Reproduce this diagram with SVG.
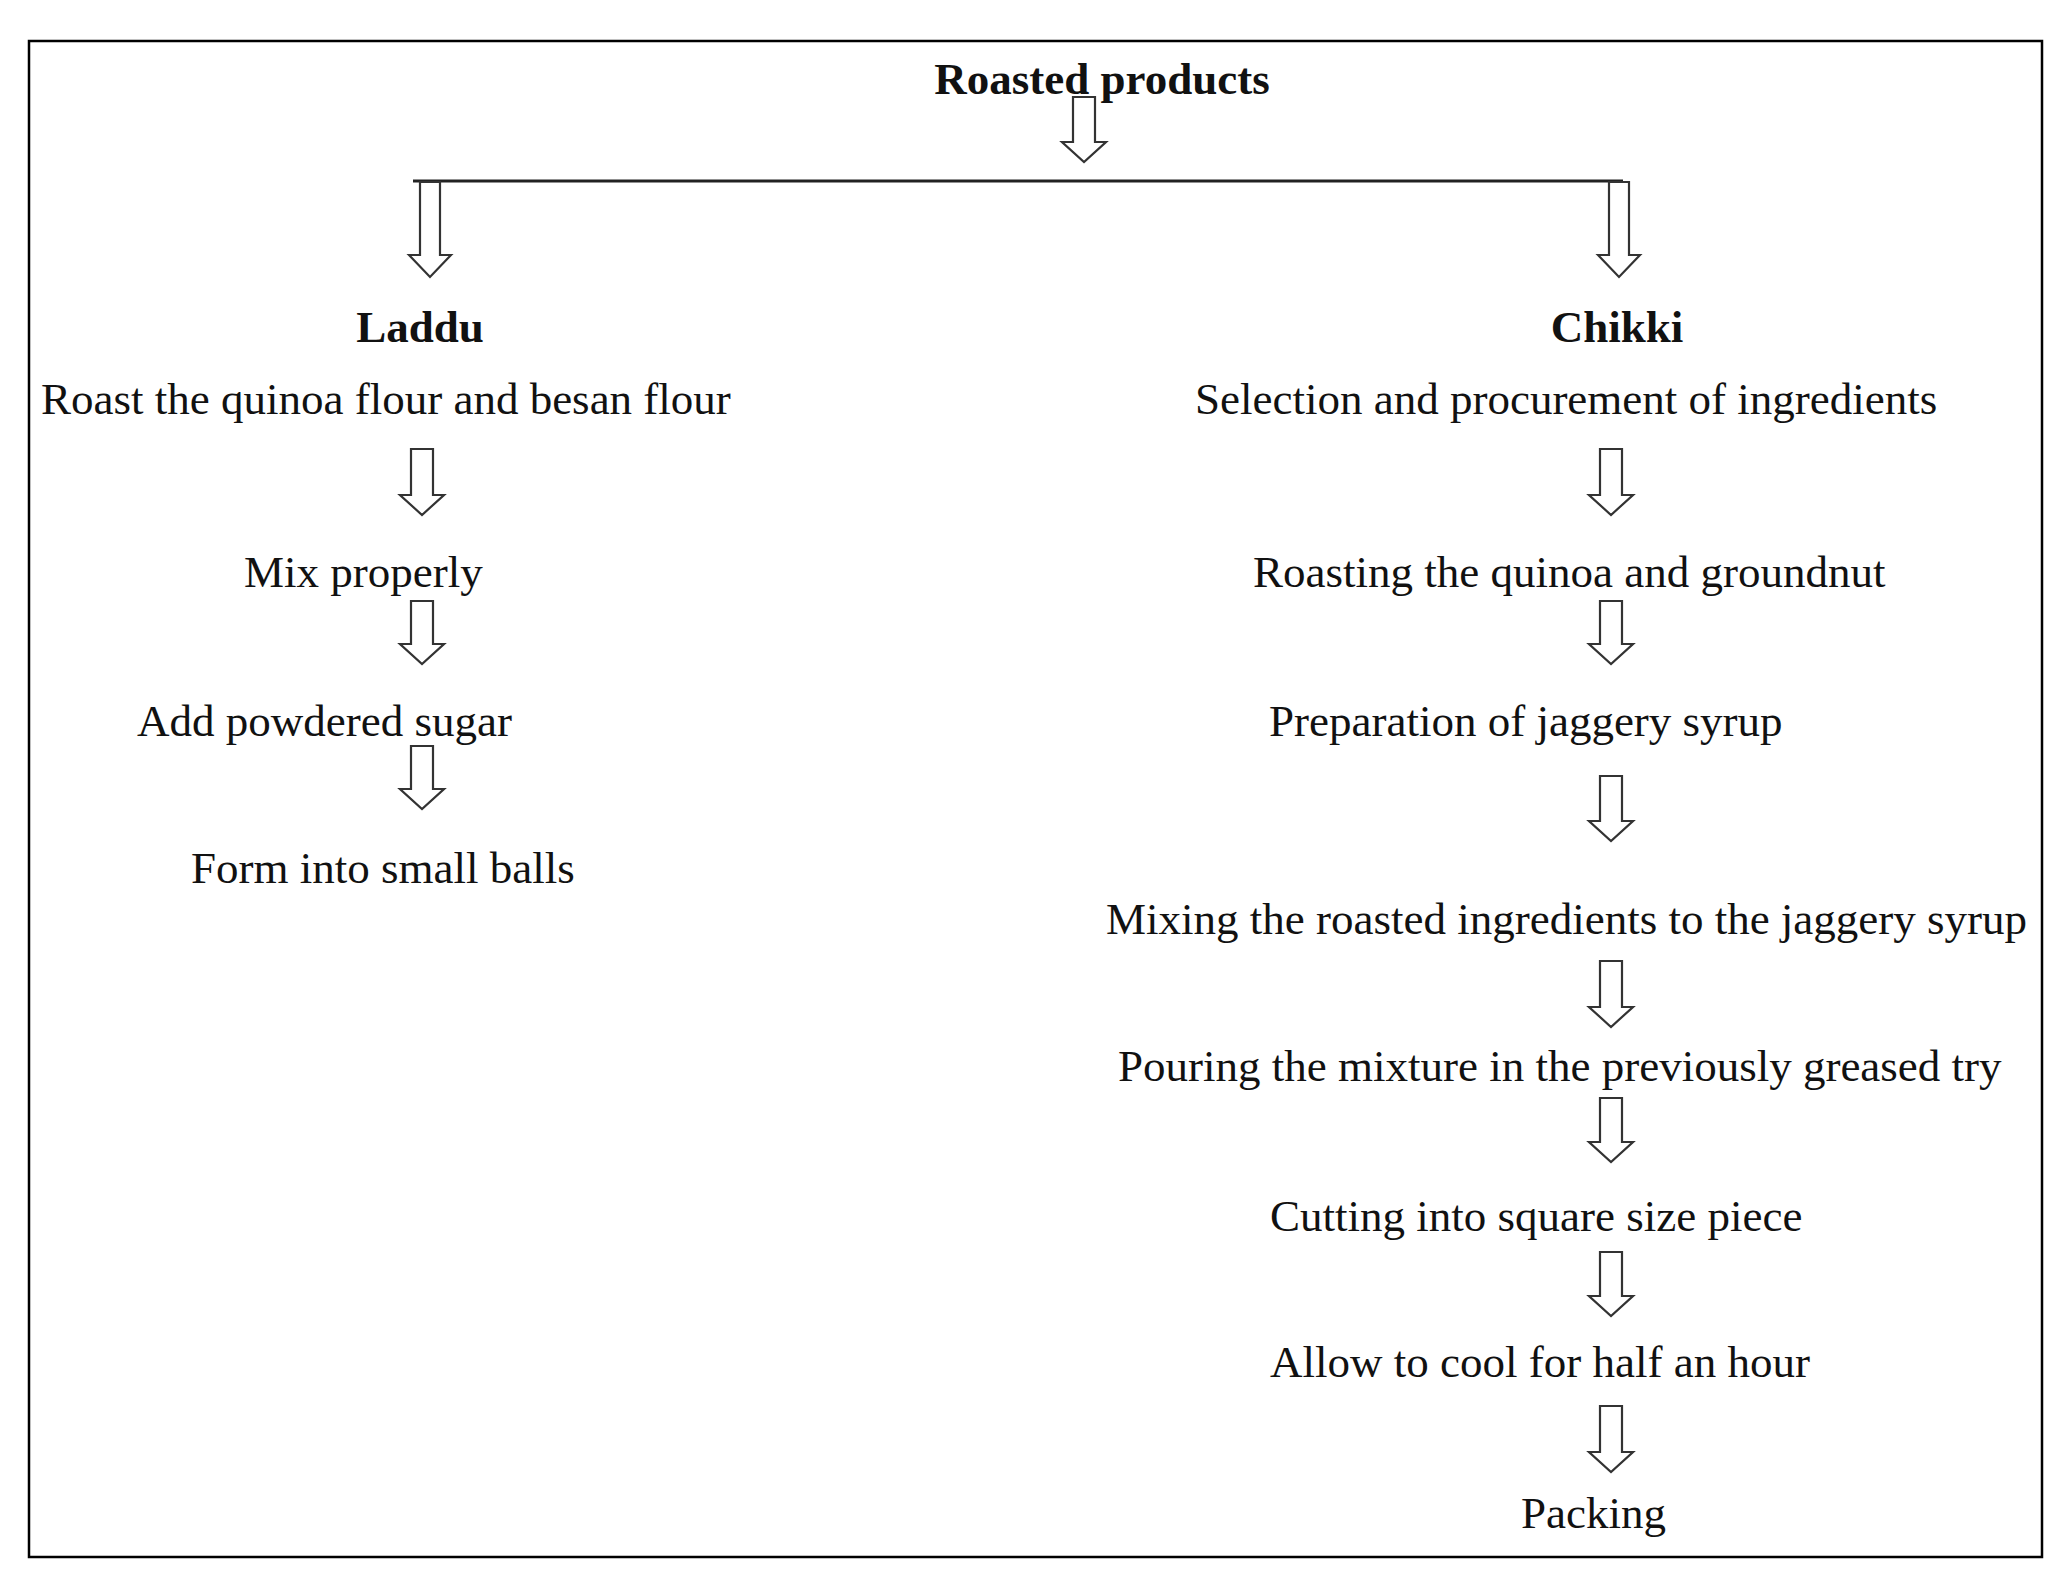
<svg xmlns="http://www.w3.org/2000/svg" width="2070" height="1570" viewBox="0 0 2070 1570">
<style>
.t{font-family:"Liberation Serif","Times New Roman",serif;font-size:45px;fill:#111}
.b{font-weight:bold;text-anchor:middle}
.arr{fill:#fff;stroke:#333;stroke-width:2.2;stroke-linejoin:miter}
</style>
<rect width="2070" height="1570" fill="#fff"/>
<rect x="29" y="41" width="2013" height="1516" fill="none" stroke="#000" stroke-width="2.5"/>
<g id="connectors">
<line x1="413" y1="181" x2="1623" y2="181" stroke="#222" stroke-width="3"/>
<path class="arr" d="M1073,97 H1095 V142 H1106 L1084,162 L1062,142 H1073 Z"/>
<path class="arr" d="M420,182 H440 V255 H451 L430,277 L409,255 H420 Z"/>
<path class="arr" d="M1609,182 H1629 V255 H1640 L1619,277 L1598,255 H1609 Z"/>
<path class="arr" d="M411,449 H433 V495 H444 L422,515 L400,495 H411 Z"/>
<path class="arr" d="M411,601 H433 V644 H444 L422,664 L400,644 H411 Z"/>
<path class="arr" d="M411,746 H433 V789 H444 L422,809 L400,789 H411 Z"/>
<path class="arr" d="M1600,449 H1622 V495 H1633 L1611,515 L1589,495 H1600 Z"/>
<path class="arr" d="M1600,601 H1622 V644 H1633 L1611,664 L1589,644 H1600 Z"/>
<path class="arr" d="M1600,776 H1622 V821 H1633 L1611,841 L1589,821 H1600 Z"/>
<path class="arr" d="M1600,961 H1622 V1007 H1633 L1611,1027 L1589,1007 H1600 Z"/>
<path class="arr" d="M1600,1098 H1622 V1142 H1633 L1611,1162 L1589,1142 H1600 Z"/>
<path class="arr" d="M1600,1252 H1622 V1296 H1633 L1611,1316 L1589,1296 H1600 Z"/>
<path class="arr" d="M1600,1406 H1622 V1452 H1633 L1611,1472 L1589,1452 H1600 Z"/>
</g>
<g id="title"><text class="t b" x="1102" y="94">Roasted products</text></g>
<g id="laddu"><text class="t b" x="420" y="342">Laddu</text></g>
<g id="chikki"><text class="t b" x="1617" y="342">Chikki</text></g>
<g id="l1"><text class="t" x="41" y="414">Roast the quinoa flour and besan flour</text></g>
<g id="l2"><text class="t" x="244" y="587">Mix properly</text></g>
<g id="l3"><text class="t" x="137" y="736">Add powdered sugar</text></g>
<g id="l4"><text class="t" x="191" y="883">Form into small balls</text></g>
<g id="r1"><text class="t" x="1195" y="414">Selection and procurement of ingredients</text></g>
<g id="r2"><text class="t" x="1253" y="587">Roasting the quinoa and groundnut</text></g>
<g id="r3"><text class="t" x="1269" y="736">Preparation of jaggery syrup</text></g>
<g id="r4"><text class="t" x="1106" y="934">Mixing the roasted ingredients to the jaggery syrup</text></g>
<g id="r5"><text class="t" x="1118" y="1081">Pouring the mixture in the previously greased try</text></g>
<g id="r6"><text class="t" x="1270" y="1231">Cutting into square size piece</text></g>
<g id="r7"><text class="t" x="1270" y="1377">Allow to cool for half an hour</text></g>
<g id="r8"><text class="t" x="1521" y="1528">Packing</text></g>
</svg>
